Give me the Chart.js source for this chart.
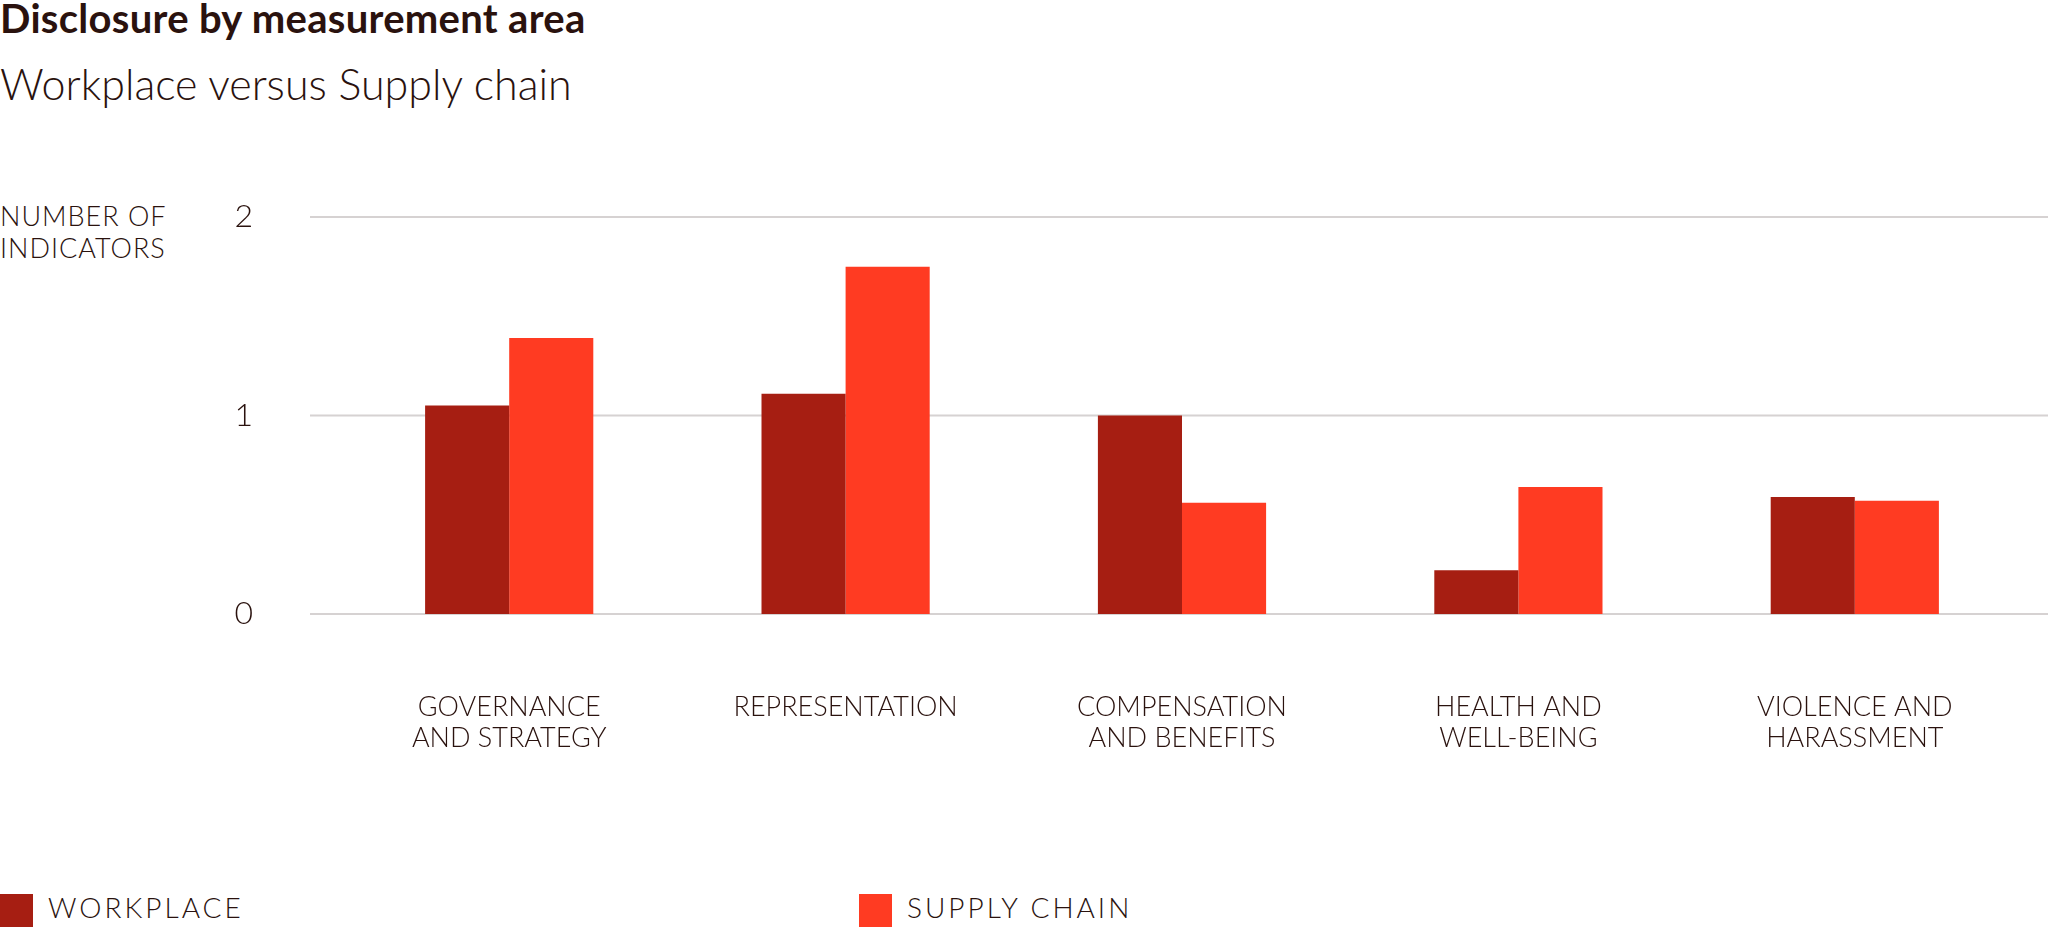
<!DOCTYPE html>
<html><head><meta charset="utf-8">
<script src="https://cdn.jsdelivr.net/npm/chart.js@4"></script>
<style>
html,body{margin:0;padding:0;background:#fff;width:2048px;height:927px;overflow:hidden;font-family:Lato,"Open Sans",sans-serif;color:#2a120e}
#t{position:absolute;left:0;top:-6px;font-size:40px;font-weight:700;letter-spacing:0.3px}
#s{position:absolute;left:0;top:58px;font-size:43px;font-weight:300}
#yt{position:absolute;left:0;top:200px;font-size:27px;line-height:32px;letter-spacing:1px;font-weight:300}
.lg{position:absolute;top:890px;font-size:28px;letter-spacing:3px;font-weight:300}
.sw{display:inline-block;width:33px;height:35px;vertical-align:middle;margin-right:15px}
#wrap{position:absolute;left:0;top:0;width:2048px;height:927px}
</style></head><body>
<div id="t">Disclosure by measurement area</div>
<div id="s">Workplace versus Supply chain</div>
<div id="yt">NUMBER OF<br>INDICATORS</div>
<div class="lg" style="left:0"><span class="sw" style="background:#a61e12"></span>WORKPLACE</div>
<div class="lg" style="left:859px"><span class="sw" style="background:#ff3b22"></span>SUPPLY CHAIN</div>
<div id="wrap"><canvas id="c"></canvas></div>
<script>
const categories=[["GOVERNANCE","AND STRATEGY"],["REPRESENTATION"],["COMPENSATION","AND BENEFITS"],["HEALTH AND","WELL-BEING"],["VIOLENCE AND","HARASSMENT"]];
const workplace=[1.05,1.11,1.0,0.22,0.59];
const supplyChain=[1.39,1.75,0.56,0.64,0.57];
const yTicks=[0,1,2];
const gridPlugin={id:'g',beforeDatasetsDraw(ch){const c=ch.ctx,y=ch.scales.y;c.save();c.strokeStyle='#d6d2d2';c.lineWidth=2;
yTicks.forEach(v=>{const p=y.getPixelForValue(v);c.beginPath();c.moveTo(310,p);c.lineTo(2048,p);c.stroke();});c.restore();}};
new Chart(document.getElementById('c'),{type:'bar',
data:{labels:categories,datasets:[
{label:'WORKPLACE',data:workplace,backgroundColor:'#a61e12',categoryPercentage:0.5,barPercentage:1},
{label:'SUPPLY CHAIN',data:supplyChain,backgroundColor:'#ff3b22',categoryPercentage:0.5,barPercentage:1}]},
options:{responsive:true,maintainAspectRatio:false,animation:false,
layout:{padding:{top:217,right:25,left:0,bottom:0}},
plugins:{legend:{display:false},tooltip:{enabled:false}},
scales:{
x:{grid:{display:false},border:{display:false},
ticks:{color:'#2a120e',padding:70,font:{family:'Lato',size:27,weight:300,lineHeight:1.15}},
afterFit(a){a.height=313;}},
y:{min:0,max:2,grid:{display:false},border:{display:false},
afterBuildTicks(a){a.ticks=yTicks.map(v=>({value:v}));},
ticks:{color:'#2a120e',padding:80,font:{family:'Lato',size:32,weight:300}},
afterFit(a){a.width=341;}}}},
plugins:[gridPlugin]});
</script></body></html>
